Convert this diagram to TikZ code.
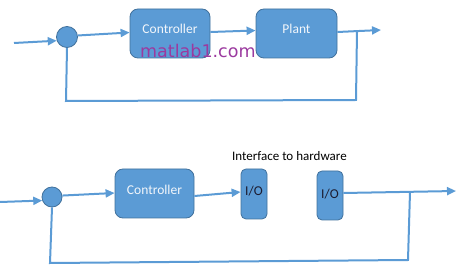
\documentclass[tikz,border=0pt]{standalone}
\usepackage{fontspec}
\setmainfont{Carlito}
\newfontfamily\wmfont{DejaVu Sans}
\usetikzlibrary{arrows.meta}
\definecolor{boxblue}{HTML}{5B9BD5}
\definecolor{boxedge}{HTML}{41719C}
\definecolor{linkblue}{HTML}{5B9BD5}
\definecolor{wmpurple}{HTML}{9B3A9F}
\definecolor{lighttext}{HTML}{F2F6FB}
\definecolor{darktext}{HTML}{1C1C30}
\tikzset{
  blk/.style={draw=boxedge, line width=0.8pt, fill=boxblue, rounded corners=8pt, inner sep=0pt},
  iobox/.style={draw=boxedge, line width=0.8pt, fill=boxblue, rounded corners=5pt, inner sep=0pt, minimum width=26pt, minimum height=50pt},
  sumnode/.style={circle, draw=boxedge, line width=0.8pt, fill=boxblue, minimum size=21pt, inner sep=0pt},
  lbl/.style={font=\fontsize{13.5}{15}\selectfont, text=lighttext, inner sep=0pt},
  iolbl/.style={font=\fontsize{13.5}{15}\selectfont, text=darktext, inner sep=0pt},
  wire/.style={draw=linkblue, line width=2pt},
  arr/.style={wire, -{Triangle[length=9pt, width=8pt]}},
}
\begin{document}
\begin{tikzpicture}[x=1pt, y=-1pt]
\useasboundingbox (0,0) rectangle (474,275);

% ---------- top loop ----------
\node[sumnode] (s1) at (67,37) {};
\node[blk, minimum width=80pt, minimum height=49pt] (c1) at (170,33.5) {};
\node[lbl] (c1t) at (170,29) {Controller};
\node[blk, minimum width=81pt, minimum height=49pt] (p1) at (296.5,33.5) {};
\node[lbl] (p1t) at (296.5,29) {Plant};

\coordinate (in1) at (14,43);
\coordinate (out1) at (381,30);
\coordinate (fb1) at (357,31);
\coordinate (fb1b) at (356,100);
\coordinate (fb1c) at (66,101);

\draw[arr] (in1) -- (s1.200);
\draw[arr] (s1.8) -- ([yshift=1pt]c1.west);
\draw[arr] ([yshift=1.5pt]c1.east) -- ([yshift=3pt]p1.west);
\draw[arr] ([yshift=1.5pt]p1.east) -- (out1);
\draw[wire] (fb1) -- (fb1b) -- (fb1c) -- (s1.south);

\node[font=\wmfont\fontsize{17.5}{20}\selectfont, text=wmpurple, anchor=base west, inner sep=0pt] (wm) at (140,58) {matlab1.com};

% ---------- bottom loop ----------
\node[sumnode, minimum size=20pt] (s2) at (52,197) {};
\node[blk, minimum width=79pt, minimum height=49pt] (c2) at (154.5,193.5) {};
\node[lbl] (c2t) at (154.5,190) {Controller};
\node[iobox] (io1) at (254,194) {};
\node[iolbl] (io1t) at (254,191) {I/O};
\node[iobox, minimum height=49pt] (io2) at (330,195.5) {};
\node[iolbl] (io2t) at (330,194) {I/O};
\node[font=\fontsize{13}{15}\selectfont, text=black, anchor=west, inner sep=0pt] (iface) at (232,156) {Interface to hardware};

\coordinate (in2) at (0,202);
\coordinate (out2) at (456,191);
\coordinate (fb2) at (410,192);
\coordinate (fb2b) at (408,260);
\coordinate (fb2c) at (50,263);

\draw[arr] (in2) -- (s2.200);
\draw[arr] (s2.8) -- ([yshift=0.5pt]c2.west);
\draw[arr] ([yshift=-2.5pt]c2.east) -- ([yshift=2pt]io1.west);
\draw[arr] ([yshift=2.5pt]io2.east) -- (out2);
\draw[wire] (fb2) -- (fb2b) -- (fb2c) -- (s2.south);
\end{tikzpicture}
\end{document}
